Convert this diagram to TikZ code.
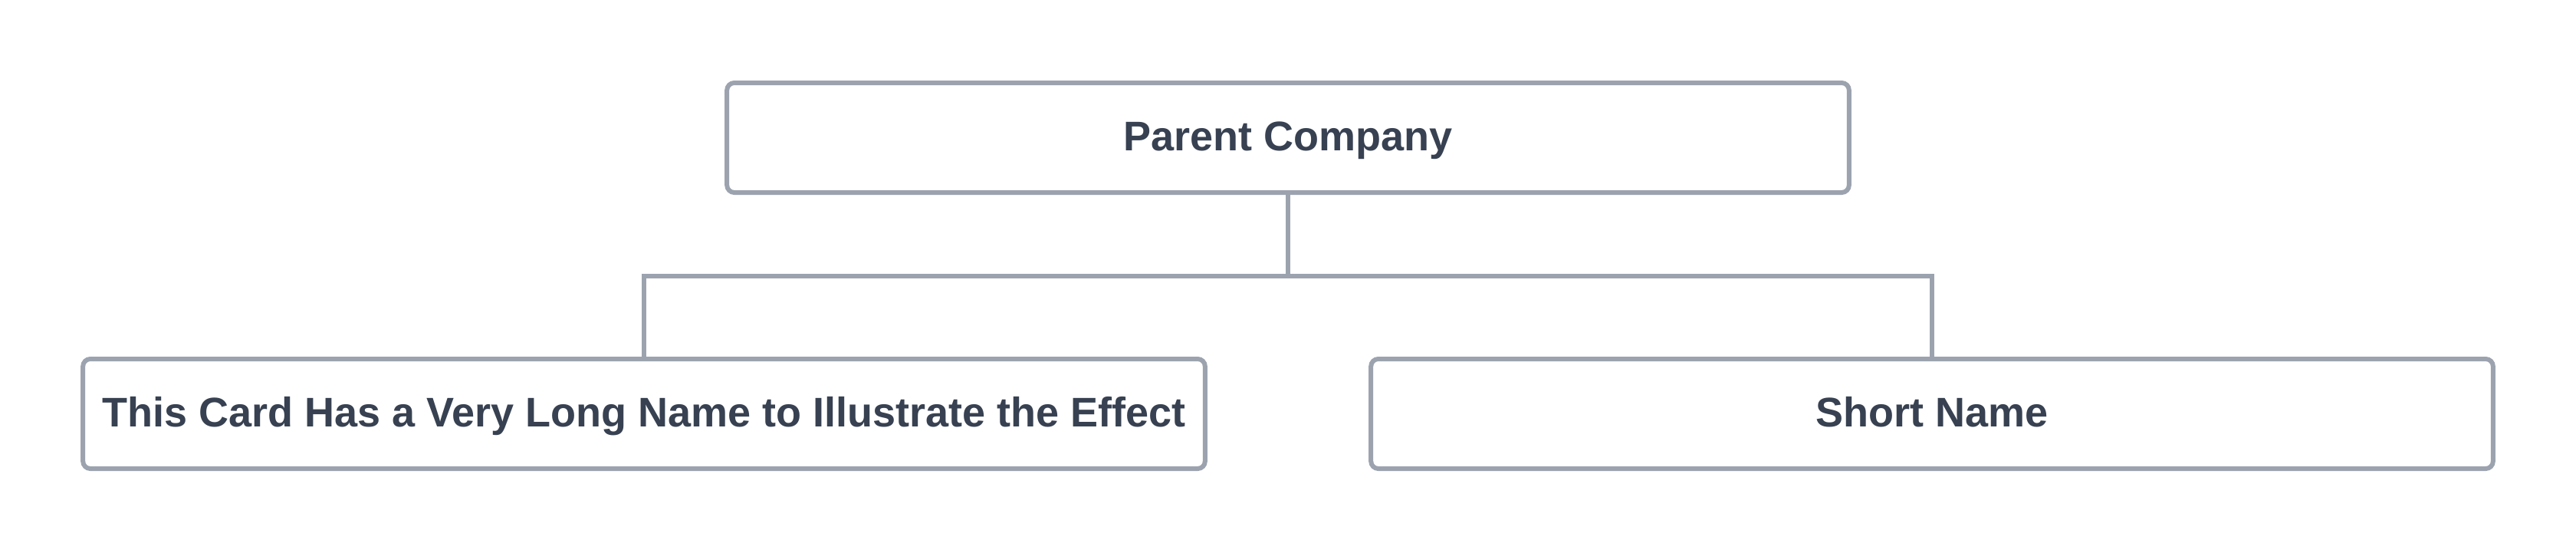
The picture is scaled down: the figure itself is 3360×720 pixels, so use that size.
\documentclass[tikz,border=0pt]{standalone}
\usepackage{fontspec}
\setmainfont{Liberation Sans}
\usetikzlibrary{positioning}

\definecolor{cardline}{RGB}{156,163,175}
\definecolor{cardtext}{RGB}{55,65,81}

\tikzset{
  card/.style={draw=cardline, line width=1.5pt, rounded corners=2.4pt,
    fill=white, text=cardtext, font=\fontsize{13.5}{16}\selectfont\bfseries,
    minimum width=365.9pt, minimum height=35.75pt, inner sep=0pt, outer sep=0pt,
    text height=12pt, text depth=3.75pt},
  link/.style={draw=cardline, line width=1.5pt}
}

\begin{document}
\begin{tikzpicture}[x=0.25pt,y=-0.25pt]

\useasboundingbox (0,0) rectangle (3360,720);

\coordinate (top) at (1680,179.5);
\coordinate (bus) at (1680,360);

\node [card] (parent) at (top) {Parent Company};
\node [card] (longcard) at (840,539.5) {This Card Has a Very Long Name to Illustrate the Effect};
\node [card] (shortcard) at (2520,539.5) {Short Name};

\draw [link] (parent.south) -- (bus);
\draw [link] (longcard.north) |- (bus) -| (shortcard.north);

\end{tikzpicture}
\end{document}
